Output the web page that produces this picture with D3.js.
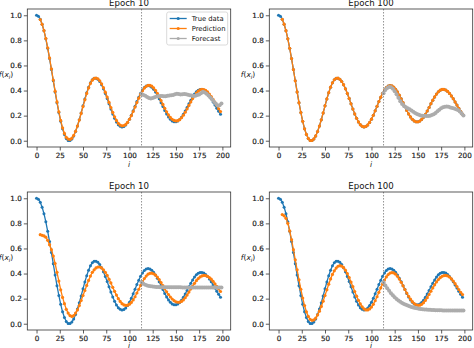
<!DOCTYPE html>
<html><head><meta charset="utf-8">
<script src="https://cdn.jsdelivr.net/npm/d3@7"></script>
<style>body{margin:0;background:#fff}svg{display:block}text{font-family:"DejaVu Sans",sans-serif}</style>
</head><body><svg id="c" width="474" height="348"></svg>
<script>
// ---- data (sampled every 2 steps) ----
const STEP = 2;
const trueStart = 0;
const trueData = [1.0,0.992,0.968,0.929,0.877,0.812,0.737,0.655,0.567,0.478,0.389,0.303,0.225,0.155,0.095,0.050,0.018,0.002,
0.002,0.014,0.038,0.073,0.117,0.167,0.222,0.278,0.333,0.383,0.427,0.462,0.486,0.498,
0.499,0.490,0.472,0.447,0.414,0.377,0.337,0.294,0.253,0.214,0.179,0.150,0.128,0.115,
0.110,0.114,0.126,0.146,0.172,0.203,0.238,0.275,0.312,0.347,0.378,0.404,0.424,0.436,
0.440,0.437,0.427,0.410,0.389,0.363,0.334,0.303,0.272,0.241,0.214,0.190,0.171,0.158,0.151,
0.151,0.157,0.170,0.188,0.211,0.237,0.265,0.295,0.323,0.349,0.372,0.390,0.403,0.409,
0.409,0.404,0.393,0.377,0.357,0.335,0.309,0.284,0.258,0.234,0.212];

const predStart = 4;
const predTL = [0.966,0.928,0.878,0.815,0.741,0.66,0.573,0.484,0.395,0.309,0.231,0.162,0.103,0.058,0.027,0.013,
0.010,0.02,0.042,0.075,0.117,0.165,0.218,0.272,0.326,0.377,0.421,0.457,0.483,0.497,
0.500,0.494,0.478,0.454,0.423,0.387,0.348,0.306,0.265,0.226,0.191,0.162,0.139,0.125,
0.119,0.121,0.13,0.147,0.171,0.2,0.233,0.268,0.304,0.339,0.371,0.398,0.42,0.434,
0.442,0.442,0.435,0.421,0.402,0.378,0.35,0.32,0.289,0.259,0.231,0.206,0.186,0.171,0.162,
0.158,0.16,0.168,0.183,0.203,0.227,0.253,0.281,0.309,0.336,0.36,0.38,0.395,0.405,
0.409,0.408,0.401,0.389,0.372,0.352,0.329,0.305,0.28,0.255,0.232];
const predTR = [0.968,0.929,0.877,0.812,0.737,0.655,0.567,0.478,0.389,0.303,0.225,0.155,0.095,0.050,0.018,0.002,
0.002,0.014,0.038,0.073,0.117,0.167,0.222,0.278,0.333,0.383,0.427,0.462,0.486,0.498,
0.499,0.490,0.472,0.447,0.414,0.377,0.337,0.294,0.253,0.214,0.179,0.150,0.128,0.115,
0.110,0.114,0.126,0.146,0.172,0.203,0.238,0.275,0.312,0.347,0.378,0.404,0.424,0.436,
0.440,0.437,0.427,0.410,0.389,0.363,0.334,0.303,0.272,0.241,0.214,0.190,0.171,0.158,0.151,
0.151,0.157,0.170,0.188,0.211,0.237,0.265,0.295,0.323,0.349,0.372,0.390,0.403,0.409,
0.409,0.404,0.393,0.377,0.357,0.335,0.309,0.284,0.258,0.234,0.212];
const predBL = [0.71,0.705,0.70,0.69,0.665,0.63,0.59,0.54,0.48,0.41,0.34,0.27,0.21,0.16,0.115,0.085,
0.065,0.058,0.065,0.085,0.11,0.145,0.185,0.225,0.265,0.305,0.345,0.38,0.41,0.43,
0.445,0.452,0.452,0.445,0.43,0.41,0.385,0.355,0.325,0.29,0.258,0.228,0.2,0.178,
0.16,0.15,0.146,0.148,0.156,0.17,0.19,0.215,0.245,0.275,0.305,0.335,0.36,0.38,
0.395,0.402,0.403,0.398,0.388,0.372,0.352,0.328,0.303,0.278,0.255,0.233,0.213,0.197,0.184,
0.175,0.171,0.172,0.178,0.19,0.207,0.228,0.252,0.277,0.3,0.322,0.343,0.36,0.373,
0.381,0.385,0.384,0.378,0.368,0.355,0.338,0.318,0.298,0.277,0.257];
const predBR = [0.87,0.86,0.84,0.80,0.74,0.67,0.59,0.51,0.43,0.35,0.275,0.205,0.145,0.095,0.058,0.035,
0.027,0.03,0.045,0.07,0.1,0.138,0.18,0.225,0.27,0.315,0.357,0.393,0.422,0.444,
0.458,0.463,0.459,0.447,0.427,0.4,0.368,0.332,0.295,0.257,0.22,0.187,0.158,0.135,
0.118,0.11,0.11,0.118,0.133,0.155,0.183,0.215,0.25,0.285,0.318,0.348,0.373,0.392,
0.404,0.408,0.405,0.395,0.378,0.356,0.33,0.302,0.273,0.245,0.219,0.196,0.176,0.161,0.151,
0.147,0.148,0.155,0.168,0.186,0.208,0.233,0.259,0.285,0.31,0.333,0.352,0.367,0.378,
0.384,0.385,0.381,0.372,0.358,0.34,0.319,0.296,0.273,0.251,0.232];

const fcStart = 113;
const fcTL = [0.372,0.365,0.358,0.348,0.34,0.336,0.34,0.347,0.352,0.355,0.357,0.356,0.354,0.355,0.358,0.36,0.362,0.365,0.37,0.374,0.372,0.368,0.37,0.372,0.37,0.366,0.362,0.36,0.356,0.358,0.364,0.368,0.378,0.39,0.385,0.375,0.36,0.345,0.328,0.31,0.295,0.28,0.282,0.296];
const fcTR = [0.378,0.404,0.42,0.428,0.427,0.415,0.395,0.37,0.342,0.315,0.292,0.276,0.266,0.258,0.25,0.24,0.23,0.222,0.214,0.207,0.202,0.2,0.199,0.198,0.198,0.2,0.205,0.212,0.222,0.234,0.247,0.258,0.266,0.27,0.272,0.27,0.265,0.26,0.256,0.251,0.244,0.233,0.218,0.202];
const fcBL = [0.33,0.318,0.31,0.305,0.301,0.298,0.296,0.294,0.293,0.292,0.291,0.29,0.29,0.29,0.29,0.29,0.29,0.29,0.29,0.29,0.29,0.29,0.289,0.289,0.289,0.289,0.289,0.289,0.289,0.289,0.289,0.289,0.289,0.289,0.288,0.288,0.288,0.288,0.288,0.288,0.288,0.288,0.288,0.288];
const fcBR = [0.33,0.305,0.282,0.262,0.243,0.226,0.211,0.198,0.186,0.175,0.166,0.158,0.151,0.145,0.139,0.134,0.13,0.126,0.123,0.12,0.118,0.116,0.114,0.113,0.112,0.111,0.11,0.109,0.108,0.108,0.107,0.107,0.106,0.106,0.106,0.105,0.105,0.105,0.105,0.105,0.105,0.105,0.105,0.105];

const splitAt = 113;
const xTicks = [0,25,50,75,100,125,150,175,200];
const yTicks = [0.0,0.2,0.4,0.6,0.8,1.0];
const titles = ["Epoch 10","Epoch 100","Epoch 10","Epoch 100"];
const seriesNames = ["True data","Prediction","Forecast"];
const colors = ["#1f77b4","#ff7f0e","#acacac"];

const panels = [
  {title:titles[0], pred:predTL, fc:fcTL, legend:true},
  {title:titles[1], pred:predTR, fc:fcTR},
  {title:titles[2], pred:predBL, fc:fcBL},
  {title:titles[3], pred:predBR, fc:fcBR}
];
const boxes = [
  {l:27.3,r:230.7,t:9,b:147},
  {l:269.3,r:472.7,t:9,b:147},
  {l:27.3,r:230.7,t:192,b:330},
  {l:269.3,r:472.7,t:192,b:330}
];

const svg = d3.select("#c");
const toPts = (arr, start) => arr.map((v,k)=>({x:start+k*STEP, y:v}));

panels.forEach((p,idx)=>{
  const bx = boxes[idx];
  const x = d3.scaleLinear().domain([-9.95,208.95]).range([bx.l,bx.r]);
  const y = d3.scaleLinear().domain([-0.05,1.05]).range([bx.b,bx.t]);
  const g = svg.append("g");
  const clipId = "clip"+idx;
  g.append("clipPath").attr("id",clipId).append("rect")
    .attr("x",bx.l).attr("y",bx.t).attr("width",bx.r-bx.l).attr("height",bx.b-bx.t);
  const plot = g.append("g").attr("clip-path",`url(#${clipId})`);
  const line = d3.line().x(d=>x(d.x)).y(d=>y(d.y));
  const series = [
    {pts:toPts(trueData,trueStart), c:colors[0], r:1.5, w:1.3},
    {pts:toPts(p.pred,predStart), c:colors[1], r:1.6, w:1.3},
    {pts:toPts(p.fc,fcStart), c:colors[2], r:2.0, w:2.0}
  ];
  series.forEach(s=>{
    plot.append("path").datum(s.pts).attr("d",line).attr("fill","none")
      .attr("stroke",s.c).attr("stroke-width",s.w);
    plot.append("g").selectAll("circle").data(s.pts).join("circle")
      .attr("cx",d=>x(d.x)).attr("cy",d=>y(d.y)).attr("r",s.r).attr("fill",s.c);
  });
  // split line
  g.append("line").attr("x1",x(splitAt)).attr("x2",x(splitAt)).attr("y1",bx.t).attr("y2",bx.b)
    .attr("stroke","#777").attr("stroke-width",0.8).attr("stroke-dasharray","1.5,1.5");
  // axes
  const xa = g.append("g").attr("transform",`translate(0,${bx.b})`)
    .call(d3.axisBottom(x).tickValues(xTicks).tickSize(3.5).tickPadding(2).tickFormat(d3.format("d")));
  const ya = g.append("g").attr("transform",`translate(${bx.l},0)`)
    .call(d3.axisLeft(y).tickValues(yTicks).tickSize(3.5).tickPadding(2).tickFormat(d3.format(".1f")));
  [xa,ya].forEach(a=>{
    a.select(".domain").remove();
    a.selectAll(".tick line").attr("stroke","#333").attr("stroke-width",0.8);
    a.selectAll(".tick text").attr("fill","#222").attr("stroke","#222").attr("stroke-width",0.2)
      .style("font-size","7.2px").style("font-family","DejaVu Sans");
  });
  g.append("rect").attr("x",bx.l).attr("y",bx.t).attr("width",bx.r-bx.l).attr("height",bx.b-bx.t)
    .attr("fill","none").attr("stroke","#333").attr("stroke-width",0.8);
  // title
  g.append("text").attr("x",(bx.l+bx.r)/2).attr("y",bx.t-3).attr("text-anchor","middle")
    .style("font-size","8.6px").attr("fill","#111").text(p.title);
  // x label
  g.append("text").attr("x",(bx.l+bx.r)/2).attr("y",Math.min(bx.b+20,347.5)).attr("text-anchor","middle")
    .style("font-size","7.5px").style("font-style","italic").attr("fill","#111").text("i");
  // y label
  const yl = g.append("text").attr("x",bx.l-14).attr("y",(bx.t+bx.b)/2 - 1).attr("text-anchor","end")
    .style("font-size","7.5px").attr("fill","#111");
  yl.append("tspan").style("font-style","italic").text("f");
  yl.append("tspan").text("(");
  yl.append("tspan").style("font-style","italic").text("x");
  yl.append("tspan").style("font-style","italic").style("font-size","5.5px").attr("dy",1.6).text("i");
  yl.append("tspan").attr("dy",-1.6).text(")");

  if(p.legend){
    const lg = g.append("g").attr("transform",`translate(${bx.r-64},${bx.t+3})`);
    lg.append("rect").attr("width",61).attr("height",33).attr("rx",2)
      .attr("fill","#fff").attr("fill-opacity",0.85).attr("stroke","#d0d0d0").attr("stroke-width",0.8);
    seriesNames.forEach((nm,k)=>{
      const yy = 6.5 + k*10;
      lg.append("line").attr("x1",3).attr("x2",20).attr("y1",yy).attr("y2",yy)
        .attr("stroke",colors[k]).attr("stroke-width",1.3);
      lg.append("circle").attr("cx",11.5).attr("cy",yy).attr("r",1.6).attr("fill",colors[k]);
      lg.append("text").attr("x",25).attr("y",yy+2.4).style("font-size","6.8px").attr("fill","#111").text(nm);
    });
  }
});
</script></body></html>
